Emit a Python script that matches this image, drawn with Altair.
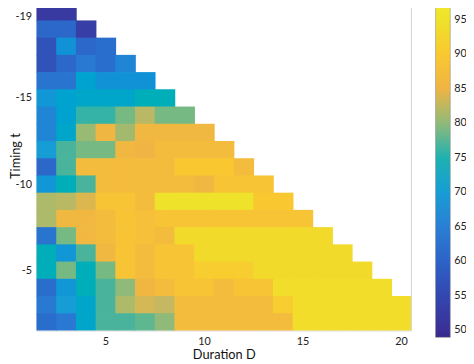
import altair as alt
import pandas as pd

# Durations (columns) and timings (rows, top to bottom)
durations = list(range(2, 21))
timings = [-20, -19, -18, -17, -16, -15, -14, -13, -12, -11, -10, -9, -8, -7, -6, -5, -4, -3, -2]

# Cell values per timing row, starting at D = 2
r20 = [52, 52]
r19 = [61, 61, 53]
r18 = [57, 68, 61, 62]
r17 = [57, 61, 64, 62, 66]
r16 = [63, 63, 71, 68, 68, 68]
r15 = [69, 71, 72, 72, 72, 74, 74]
r14 = [66, 71, 76, 76, 79, 82, 79, 79]
r13 = [66, 72, 80.5, 85.5, 81, 86, 86, 86, 86]
r12 = [70, 77, 79, 79, 86, 85, 87, 87, 87, 87]
r11 = [61, 77, 87, 87, 87, 87, 87, 90, 90, 90, 87]
r10 = [69, 74, 77, 87, 87, 87, 87, 87, 86, 89, 89, 89]
r9 = [81.5, 82, 84, 89, 89, 87, 95, 95, 95, 95, 95, 90, 90]
r8 = [81.5, 86, 86, 87, 89, 88, 89, 89, 89, 89, 89, 89, 89, 89]
r7 = [63, 79, 86, 87, 89, 88, 87, 93.5, 93.5, 93.5, 93.5, 93.5, 93.5, 93.5, 93.5]
r6 = [74, 69, 77, 86, 89, 87, 89, 89, 93.5, 93.5, 93.5, 93.5, 93.5, 93.5, 93.5, 93.5]
r5 = [74, 79, 74, 79, 89, 87, 89, 89, 91, 91, 91, 93.5, 93.5, 93.5, 93.5, 93.5, 93.5]
r4 = [62, 69, 74, 77, 80, 85.5, 87, 89, 89, 87, 89, 89, 94, 94, 94, 94, 94, 94]
r3 = [64, 70, 72, 77, 81.5, 83.5, 82.5, 87, 87, 87, 87, 87, 91, 94, 94, 94, 94, 94, 94]
r2 = [62, 64, 72, 77, 77, 78, 80, 87, 87, 87, 87, 87, 87, 94, 94, 94, 94, 94, 94]

row_values = [r20, r19, r18, r17, r16, r15, r14, r13, r12, r11,
              r10, r9, r8, r7, r6, r5, r4, r3, r2]

# Colour bar (parula-like) stops
cbar_domain = [49, 50, 55, 60, 65, 70, 75, 77.5, 80, 82.5, 85, 90, 95, 98]
cbar_colors = ["#352a87", "#3a2f96", "#3347b0", "#2d62c6", "#2a7fd4", "#179dd5",
               "#1fb1b1", "#52b596", "#8fba79", "#c4b862", "#efb444", "#f9c831",
               "#eee22a", "#f4ea2a"]
cbar_ticks = [50, 55, 60, 65, 70, 75, 80, 85, 90, 95]
x_ticks = [5, 10, 15, 20]
y_ticks = [-20, -15, -10, -5]

records = []
for t, vals in zip(timings, row_values):
    for j, v in enumerate(vals):
        records.append({"D": durations[j], "t": t, "v": v})
df = pd.DataFrame(records)

cscale = alt.Scale(domain=cbar_domain, range=cbar_colors, clamp=True)

# cells span [D-0.5, D+0.5] x [t-0.5, t+0.5]; a tiny overlap hides anti-alias seams
chart = alt.Chart(df).transform_calculate(
    x0="datum.D - 0.5", x1="datum.D + 0.54",
    y0="datum.t - 0.5", y1="datum.t + 0.54",
).mark_rect(strokeWidth=0).encode(
    x=alt.X("x0:Q",
            scale=alt.Scale(domain=[1.5, 20.5], nice=False, zero=False, clamp=True),
            axis=alt.Axis(values=x_ticks, labelAngle=0, title="Duration D",
                          labelExpr="'' + datum.value",
                          domain=False, ticks=False, tickSize=0, grid=False,
                          labelPadding=5, titlePadding=3)),
    x2="x1:Q",
    y=alt.Y("y0:Q",
            scale=alt.Scale(domain=[-20.5, -1.5], nice=False, zero=False, reverse=True, clamp=True),
            axis=alt.Axis(values=y_ticks, title="Timing t",
                          labelExpr="datum.value == -20 ? '-19' : '' + datum.value",
                          labelOffset={"condition": {"test": "datum.value == -20", "value": 5}, "value": 0},
                          domain=False, ticks=False, tickSize=0, grid=False,
                          labelPadding=5, titleX=-14, titleY=155)),
    y2="y1:Q",
    color=alt.Color("v:Q", scale=cscale,
                    legend=alt.Legend(type="gradient", orient="none", legendX=406, legendY=-4,
                                      direction="vertical", gradientLength=344,
                                      gradientThickness=15, values=cbar_ticks,
                                      title=None, labelFontSize=11, labelOffset=4,
                                      labelFont="Lato", labelColor="#222222",
                                      gradientStrokeColor="#888888",
                                      gradientStrokeWidth=0.5)),
).properties(
    width=381,
    height=333,
    padding={"left": 29, "top": -8, "right": 56, "bottom": 31},
    autosize=alt.AutoSizeParams(type="none"),
).configure_view(
    stroke="#d4d4d4", strokeWidth=1
).configure_axis(
    labelFont="Lato", labelFontSize=11, labelColor="#222222",
    titleFont="Lato", titleFontSize=13, titleColor="#111111", titleFontWeight="normal",
    grid=False,
)

chart.save("out.html", embed_options={"renderer": "svg", "actions": False})
